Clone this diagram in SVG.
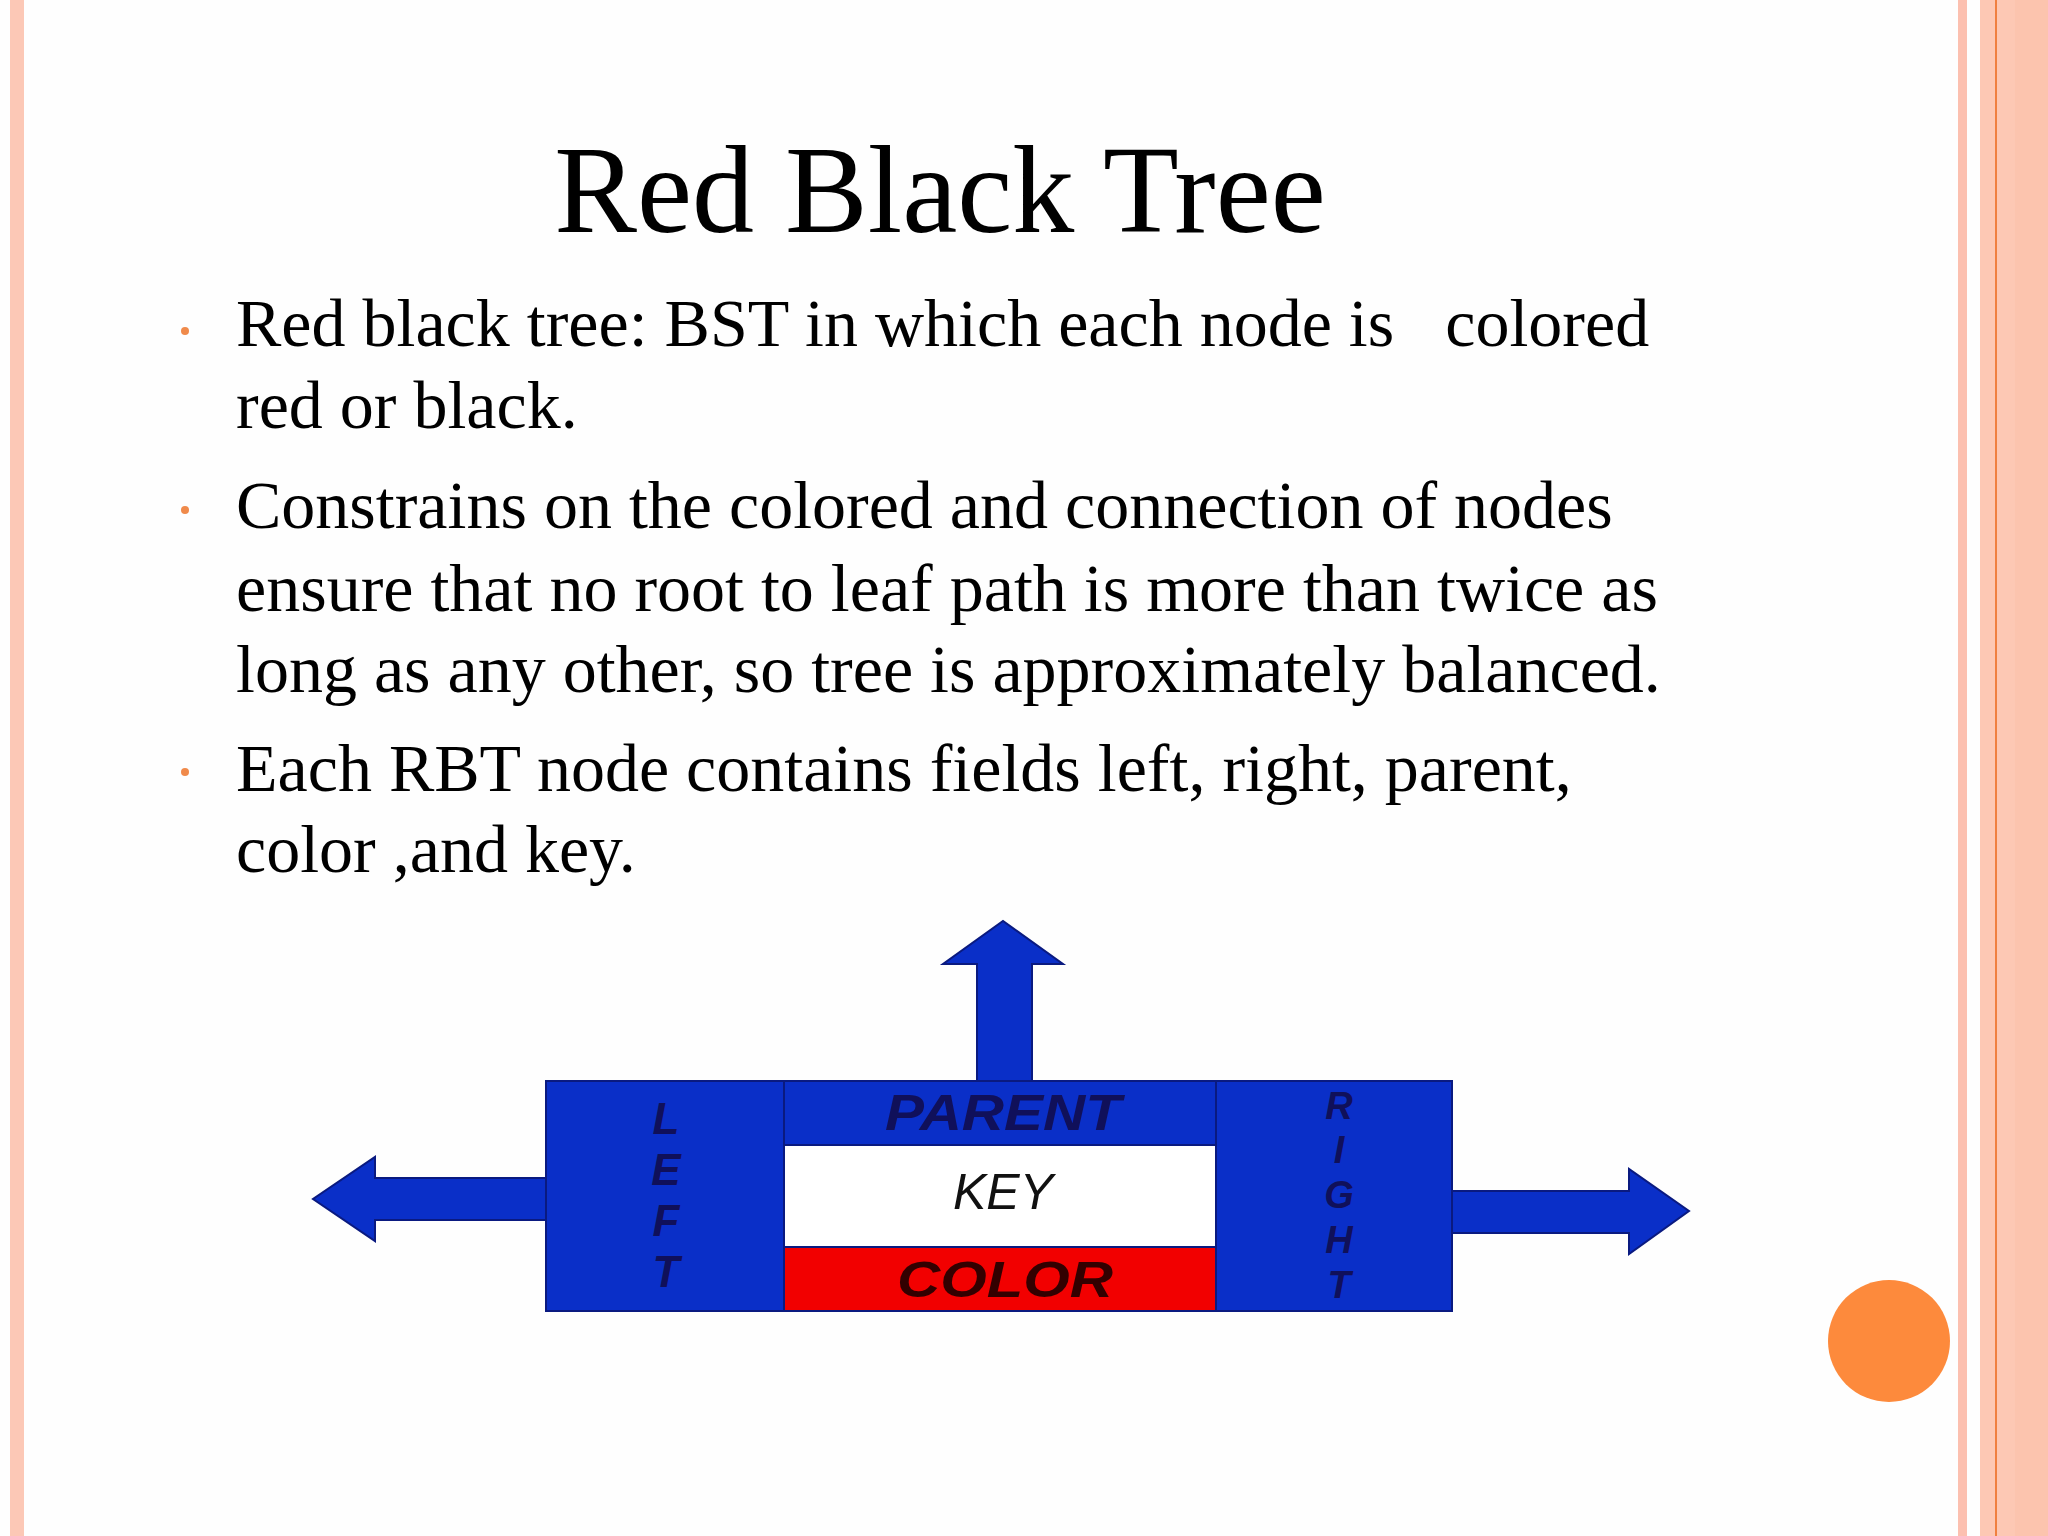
<svg xmlns="http://www.w3.org/2000/svg" width="2048" height="1536" viewBox="0 0 2048 1536">
<style>
.body{font-family:"Liberation Serif",serif;font-size:68px;fill:#000}
.lab{font-family:"Liberation Sans",Arial,sans-serif;font-style:italic;font-weight:bold;fill:#10105a;font-size:50px;text-anchor:middle}
.sl{font-size:44px}
.sr{font-size:38px}
.blue{fill:#0a2fc8;stroke:#0a1a80;stroke-width:2}
.bul{fill:#f08a4b}
</style>
<rect width="2048" height="1536" fill="#fefefe"/>
<rect x="10" y="0" width="14" height="1536" fill="#fcc8b6"/>
<rect x="1958" y="0" width="9" height="1536" fill="#fcc0b0"/>
<rect x="1980" y="0" width="68" height="1536" fill="#fdc8b4"/>
<rect x="1995" y="0" width="2" height="1536" fill="#f08040"/>
<rect x="2015" y="0" width="33" height="1536" fill="#fcc4ae"/>
<text x="940" y="232" font-family="Liberation Serif,serif" font-size="124" text-anchor="middle">Red Black Tree</text>
<g id="bullets">
<circle class="bul" cx="185" cy="331" r="4"/>
<circle class="bul" cx="185" cy="510" r="4"/>
<circle class="bul" cx="185" cy="772" r="4"/>
<text class="body" x="236" y="346" xml:space="preserve">Red black tree: BST in which each node is   colored</text>
<text class="body" x="236" y="428">red or black.</text>
<text class="body" x="236" y="528">Constrains on the colored and connection of nodes</text>
<text class="body" x="236" y="611">ensure that no root to leaf path is more than twice as</text>
<text class="body" x="236" y="692">long as any other, so tree is approximately balanced.</text>
<text class="body" x="236" y="791">Each RBT node contains fields left, right, parent,</text>
<text class="body" x="236" y="872">color ,and key.</text>
</g>
<g id="connectors">
<polygon class="blue" points="977,1081 977,964 943,964 1003,921 1063,964 1032,964 1032,1081"/>
<polygon class="blue" points="546,1178 375,1178 375,1157 313,1199 375,1241 375,1220 546,1220"/>
<polygon class="blue" points="1452,1191 1629,1191 1629,1169 1689,1211 1629,1254 1629,1233 1452,1233"/>
</g>
<g id="node">
<rect class="blue" x="546" y="1081" width="906" height="230"/>
<line x1="784" y1="1081" x2="784" y2="1311" stroke="#0a1a80" stroke-width="2"/>
<line x1="1216" y1="1081" x2="1216" y2="1311" stroke="#0a1a80" stroke-width="2"/>
<rect x="784" y="1145" width="432" height="102" fill="#fff" stroke="#0a1a80" stroke-width="2"/>
<rect x="784" y="1247" width="432" height="64" fill="#f20000" stroke="#0a1a80" stroke-width="2"/>
<text class="lab" x="1003" y="1130" textLength="236" lengthAdjust="spacingAndGlyphs">PARENT</text>
<text class="lab" x="1003" y="1209" style="fill:#111;font-weight:normal">KEY</text>
<text class="lab" x="1005" y="1297" style="fill:#300" textLength="216" lengthAdjust="spacingAndGlyphs">COLOR</text>
<text x="666" y="1134" class="lab sl">L</text>
<text x="666" y="1185" class="lab sl">E</text>
<text x="666" y="1236" class="lab sl">F</text>
<text x="666" y="1287" class="lab sl">T</text>
<text x="1339" y="1119" class="lab sr">R</text>
<text x="1339" y="1163" class="lab sr">I</text>
<text x="1339" y="1208" class="lab sr">G</text>
<text x="1339" y="1253" class="lab sr">H</text>
<text x="1339" y="1298" class="lab sr">T</text>
</g>
<circle cx="1889" cy="1341" r="61" fill="#fd8a3c"/>
</svg>
